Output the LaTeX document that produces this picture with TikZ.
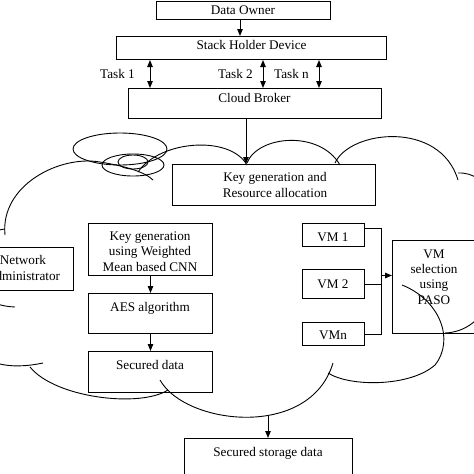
\documentclass[tikz,border=0pt]{standalone}
\usepackage{fontspec}
\setmainfont{Liberation Serif}
\usetikzlibrary{arrows.meta,calc}
\begin{document}
\begin{tikzpicture}[x=1pt,y=-1pt,
  box/.style={draw, line width=1pt, inner sep=0pt, anchor=north west},
  txt/.style={font=\fontsize{13.2}{15.2}\selectfont, inner sep=0pt, align=center, anchor=base},
  arr/.style={line width=1pt, -{Triangle[length=7pt,width=5.5pt]}},
  darr/.style={line width=1pt, {Triangle[length=7pt,width=5.5pt]}-{Triangle[length=7pt,width=5.5pt]}},
  cl/.style={line width=0.9pt},
  ln/.style={line width=1pt}]
\useasboundingbox (0,0) rectangle (474,474);
\clip (0,0) rectangle (474,474);
% boxes
\node[box, minimum width=174pt, minimum height=18pt] (do) at (156,0.5) {};
\node[box, minimum width=270pt, minimum height=23pt] (sh) at (116,36) {};
\node[box, minimum width=253pt, minimum height=30pt] (cb) at (128,88) {};
\node[box, minimum width=203pt, minimum height=41pt] (kr) at (172,164) {};
\node[box, minimum width=124pt, minimum height=52pt] (cnn) at (88,223) {};
\node[box, minimum width=124pt, minimum height=40pt] (aes) at (88,293) {};
\node[box, minimum width=124pt, minimum height=41pt] (sd) at (88,351) {};
\node[box, minimum width=100pt, minimum height=43pt] (na) at (-27,247) {};
\node[box, minimum width=62pt, minimum height=23pt] (vm1) at (302,223) {};
\node[box, minimum width=62pt, minimum height=29pt] (vm2) at (302,269) {};
\node[box, minimum width=62pt, minimum height=23pt] (vmn) at (302,322) {};
\node[box, minimum width=90pt, minimum height=93pt] (vs) at (392,240) {};
\node[box, minimum width=168pt, minimum height=40pt] (ssd) at (184,438) {};
% texts
\node[txt] (tdo) at (243,14) {Data Owner};
\node[txt] (tsh) at (251.5,49.5) {Stack Holder Device};
\node[txt] (tk1) at (117.5,78) {Task 1};
\node[txt] (tk2) at (235.5,78) {Task 2};
\node[txt] (tkn) at (291.5,78) {Task n};
\node[txt] (tcb) at (254.5,102.5) {Cloud Broker};
\node[txt] (tkr) at (275,197) {Key generation and\\Resource allocation};
\node[txt] (tcnn) at (150,271) {Key generation\\using Weighted\\Mean based CNN};
\node[txt] (taes) at (150,311.5) {AES algorithm};
\node[txt] (tsd) at (150,369.5) {Secured data};
\node[txt] (tna) at (23,280) {Network\\Administrator};
\node[txt] (tvm1) at (333,241) {VM 1};
\node[txt] (tvm2) at (333,288) {VM 2};
\node[txt] (tvmn) at (333,339) {VMn};
\node[txt] (tvs) at (434,304) {VM\\selection\\using\\PASO};
\node[txt] (tssd) at (268,456.5) {Secured storage data};
% connectors
\coordinate (ax) at (240,0);
\coordinate (t1) at (150,0);
\coordinate (t2) at (263,0);
\coordinate (t3) at (319,0);
\coordinate (bx) at (246,0);
\coordinate (bk) at (381,0);
\draw[arr] (do.south -| ax) -- (sh.north -| ax);
\draw[darr] (sh.south -| t1) -- (cb.north -| t1);
\draw[darr] (sh.south -| t2) -- (cb.north -| t2);
\draw[darr] (sh.south -| t3) -- (cb.north -| t3);
\draw[arr] (cb.south -| bx) -- (kr.north -| bx);
\draw[arr] (cnn.south) -- (aes.north);
\draw[arr] (aes.south) -- (sd.north);
\coordinate (v1) at ($(vm1.east)+(0,-6.5)$);
\draw[ln] (v1) -| (bk |- vmn.east) -- (vmn.east);
\draw[ln] (vm2.east) -- (bk |- vm2.east);
\coordinate (va) at ($(vs.west)+(0,-11.5)$);
\draw[arr] (bk |- va) -- (va);
\coordinate (cbot) at (268,416);
\draw[arr] (cbot) -- (ssd.north -| cbot);
% cloud
\draw[cl] (5,235) .. controls (0,185) and (60,155) .. (100,162) .. controls (125,166) and (145,172) .. (153,180);
\draw[cl] (5,229) .. controls (-45,235) and (-45,305) .. (15,307);
\draw[cl] (43,363) .. controls (10,370) and (-20,365) .. (-30,340);
\draw[cl] (30,367) .. controls (55,398) and (140,408) .. (168,390);
\draw[cl] (160,380) .. controls (185,425) and (310,440) .. (333,363);
\draw[cl] (328,373) .. controls (350,387) and (410,387) .. (435,365) .. controls (455,340) and (440,300) .. (402,285);
\draw[cl] (458,173) .. controls (520,170) and (520,330) .. (445,333);
\draw[cl] (335,163) .. controls (350,130) and (440,120) .. (458,180);
\draw[cl] (247,163) .. controls (258,135) and (320,130) .. (340,165);
\draw[cl] (138,172) .. controls (160,140) and (230,135) .. (247,165);
% spiral
\draw[cl] (120,149) ellipse [x radius=47, y radius=16];
\draw[cl] (133,165) ellipse [x radius=31, y radius=11];
\draw[cl] (133,162) ellipse [x radius=15, y radius=7];
\end{tikzpicture}
\end{document}
